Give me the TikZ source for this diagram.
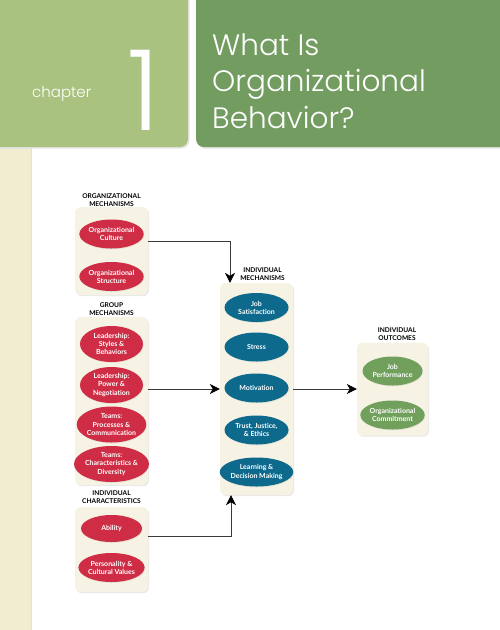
\documentclass[tikz,border=0pt]{standalone}
\usepackage{fontspec}
\setmainfont{Lato}[Ligatures=NoCommon]
\newfontfamily\titlefont{Poppins Light}[Ligatures=NoCommon]
\usetikzlibrary{shadows,arrows.meta,shapes.geometric}
\definecolor{lgreen}{HTML}{A9C280}
\definecolor{dgreen}{HTML}{739C60}
\definecolor{strip}{HTML}{F2EDD0}
\definecolor{panelc}{HTML}{F6F3E4}
\definecolor{redc}{HTML}{CF2D45}
\definecolor{bluec}{HTML}{0D6A8D}
\definecolor{greenc}{HTML}{71A05D}
\definecolor{linec}{HTML}{3A3A3A}
\tikzset{
  panel/.style={rectangle, rounded corners=6pt, fill=panelc, inner sep=0pt,
    drop shadow={opacity=0.18, shadow xshift=1pt, shadow yshift=-1.2pt}},
  oval/.style={ellipse, inner sep=0pt, text=white, align=center,
    font=\fontsize{7}{8.1}\selectfont\bfseries, minimum width=61pt, minimum height=29pt,
    drop shadow={opacity=0.15, shadow xshift=0.6pt, shadow yshift=-0.8pt}},
  redoval/.style={oval, fill=redc},
  blueoval/.style={oval, fill=bluec, minimum width=64pt},
  greenoval/.style={oval, fill=greenc, minimum width=60pt},
  grouplabel/.style={align=center, inner sep=0pt, font=\fontsize{6.6}{8}\selectfont\bfseries},
  conn/.style={draw=linec, line width=0.8pt, -{Stealth[length=10pt,width=10pt,inset=3pt,color=black]}}
}
\begin{document}
\begin{tikzpicture}[x=1pt,y=-1pt]
\useasboundingbox (0,0) rectangle (500,630);
% header
\fill[strip] (0,140) rectangle (31,630);
\fill[black!12] (31,147) rectangle (32.2,630);
\fill[black!10, rounded corners=8pt] (-10,-10) rectangle (189.5,148.5);
\fill[lgreen, rounded corners=8pt] (-10,-10) rectangle (188,147);
\fill[black!10, rounded corners=8pt] (197,-10) rectangle (511,148.5);
\fill[dgreen, rounded corners=8pt] (196,-10) rectangle (510,147);
\node[anchor=base west, inner sep=0pt, text=white, font=\titlefont\fontsize{15}{15}\selectfont] (chap) at (32,97) {chapter};
\node[anchor=base east, inner sep=0pt, text=white, font=\titlefont\fontsize{112}{112}\selectfont] (num) at (160,130) {1};
\node[anchor=base west, inner sep=0pt, text=white, font=\titlefont\fontsize{29.5}{29.5}\selectfont] (t1) at (212,55) {What Is};
\node[anchor=base west, inner sep=0pt, text=white, font=\titlefont\fontsize{29.5}{29.5}\selectfont] (t2) at (212,91.5) {Organizational};
\node[anchor=base west, inner sep=0pt, text=white, font=\titlefont\fontsize{29.5}{29.5}\selectfont] (t3) at (212,128) {Behavior?};
% panels
\node[panel, minimum width=73pt, minimum height=88pt] (orgp) at (111.5,251) {};
\node[panel, minimum width=73pt, minimum height=168pt] (gp) at (111.5,401) {};
\node[panel, minimum width=73pt, minimum height=85pt] (icp) at (111.5,549.5) {};
\node[panel, minimum width=73pt, minimum height=212pt] (imp) at (256.5,389) {};
\node[panel, minimum width=71pt, minimum height=93pt] (op) at (392.5,389) {};
% labels
\node[grouplabel] (l1) at (111.5,200.5) {ORGANIZATIONAL\\MECHANISMS};
\node[grouplabel] (l2) at (111.5,309) {GROUP\\MECHANISMS};
\node[grouplabel] (l3) at (111.5,497) {INDIVIDUAL\\CHARACTERISTICS};
\node[grouplabel] (l4) at (262.5,274) {INDIVIDUAL\\MECHANISMS};
\node[grouplabel] (l5) at (397,334) {INDIVIDUAL\\OUTCOMES};
% red ovals
\node[redoval] (oc) at (111.5,234) {Organizational\\Culture};
\node[redoval] (os) at (111.5,276.5) {Organizational\\Structure};
\node[redoval, minimum height=36pt, minimum width=63pt] (ls) at (111.5,344) {Leadership:\\Styles \&\\Behaviors};
\node[redoval, minimum height=36pt, minimum width=63pt] (lp) at (111.5,385) {Leadership:\\Power \&\\Negotiation};
\node[redoval, minimum height=36pt, minimum width=63pt] (tp) at (111.5,424.5) {Teams:\\Processes \&\\Communication};
\node[redoval, minimum height=36pt, minimum width=63pt] (tc) at (111.5,464) {Teams:\\Characteristics \&\\Diversity};
\node[redoval, minimum height=27pt] (ab) at (111.5,528.5) {Ability};
\node[redoval] (pc) at (111.5,567.5) {Personality \&\\Cultural Values};
% blue ovals
\node[blueoval] (js) at (256.5,307.5) {Job\\Satisfaction};
\node[blueoval] (st) at (256.5,347) {Stress};
\node[blueoval] (mo) at (256.5,388) {Motivation};
\node[blueoval] (tj) at (256.5,430) {Trust, Justice,\\\& Ethics};
\node[blueoval] (ld) at (256.5,472) {Learning \&\\Decision Making};
% green ovals
\node[greenoval] (jp) at (392.5,371) {Job\\Performance};
\node[greenoval] (ocm) at (392.5,415) {Organizational\\Commitment};
% connectors
\draw[conn] ([yshift=10pt]orgp.east) -| ([xshift=-26.5pt]imp.north);
\draw[conn] (gp.east |- imp.west) -- (imp.west);
\draw[conn] ([yshift=13.5pt]icp.east) -| ([xshift=-25.5pt]imp.south);
\draw[conn] (imp.east) -- (imp.east -| op.west);
\end{tikzpicture}
\end{document}
